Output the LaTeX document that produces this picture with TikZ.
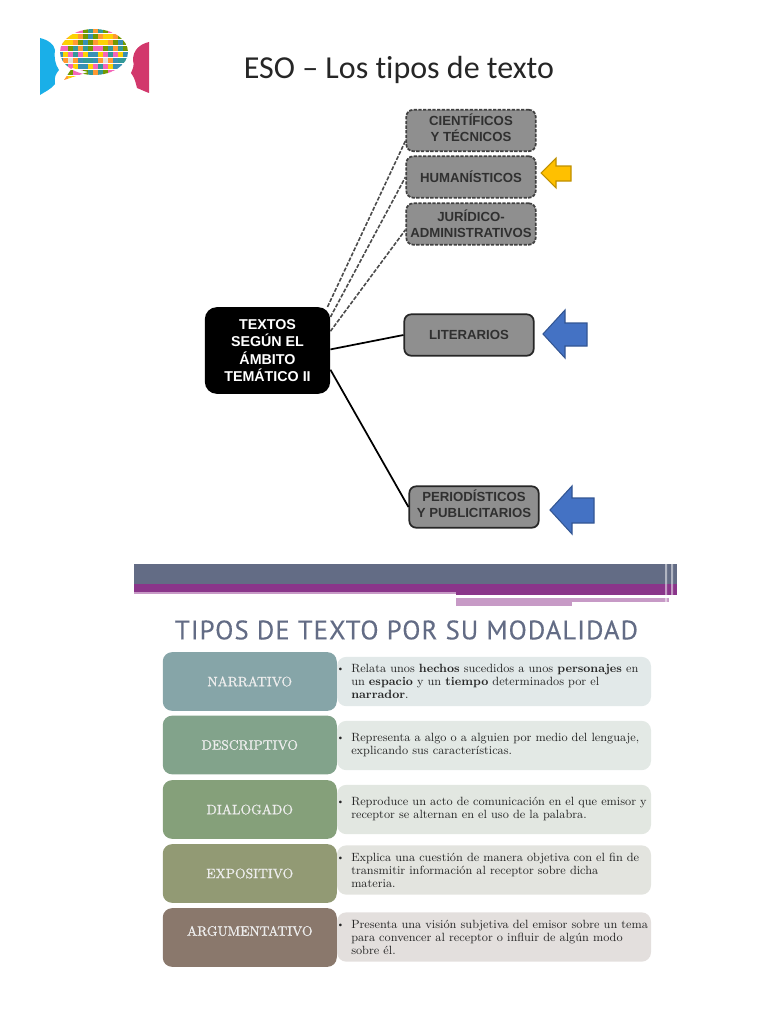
\documentclass[tikz,border=0pt]{standalone}
\usepackage{fontspec}
\newfontfamily\titulofont[Ligatures=NoCommon]{Carlito}
\newfontfamily\cajafont{Liberation Sans}
\newfontfamily\modfont[LetterSpace=4,FakeBold=0.3]{PT Sans}
\newfontfamily\etiquetafont[FakeBold=1]{Latin Modern Roman}
\newcommand{\vineta}{\llap{\raisebox{.6pt}{\scriptsize •}\hspace{5pt}}}
\definecolor{grisCaja}{HTML}{8F8F8F}
\definecolor{grisTexto}{HTML}{303030}
\definecolor{azulFlecha}{HTML}{4472C4}
\definecolor{amarilloFlecha}{HTML}{FFC000}
\definecolor{pizarra}{HTML}{636C85}
\definecolor{morado}{HTML}{8A358A}
\definecolor{moradoClaro}{HTML}{C79AC6}
\definecolor{narrCol}{HTML}{86A5A8}
\definecolor{descCol}{HTML}{82A38B}
\definecolor{diaCol}{HTML}{85A07A}
\definecolor{expoCol}{HTML}{929A74}
\definecolor{argCol}{HTML}{8A786C}
\definecolor{narrFondo}{HTML}{E2E9E9}
\definecolor{descFondo}{HTML}{E3E9E5}
\definecolor{diaFondo}{HTML}{E2E7E1}
\definecolor{expoFondo}{HTML}{E3E4DF}
\definecolor{argFondo}{HTML}{E3DFDD}
\definecolor{cabezaAzul}{HTML}{1AAFE8}
\definecolor{cabezaRosa}{HTML}{D2386C}
\begin{document}
\begin{tikzpicture}[x=.75pt,y=-.75pt,
  tipobox/.style={draw=#1,line width=1.3pt,fill=grisCaja,rounded corners=5pt,minimum width=97pt,minimum height=31pt,inner sep=0pt,align=center,text=grisTexto,font=\cajafont\bfseries\fontsize{9.9}{12}\selectfont},
  rayada/.style={dash pattern=on 2.5pt off 1pt},
  rama/.style={draw=black!70,line width=1.2pt,dash pattern=on 3pt off 1.2pt},
  flecha/.style={draw=#1!75!black,thick,fill=#1},
  modbox/.style={fill=#1,rounded corners=7pt,minimum width=130.5pt,minimum height=44pt,inner sep=0pt,text=white!93!black,font=\etiquetafont\fontsize{10.2}{12}\selectfont},
  fondobox/.style={fill=#1,rounded corners=7pt,minimum width=235.5pt,minimum height=37pt,inner sep=0pt},
  textobox/.style={anchor=west,inner sep=0pt,align=left,text=black!85,font=\fontsize{8.95}{9.75}\selectfont}]
\useasboundingbox (0,0) rectangle (768,1024);
% logo
\fill[fill=cabezaAzul] (40,38) .. controls (48,40) and (54,44) .. (55,50) .. controls (54,58) and (55,64) .. (59,70) .. controls (56,74) and (54,76) .. (55,84) .. controls (50,90) and (46,91) .. (40,95) -- cycle;
\fill[fill=cabezaRosa] (149,42) .. controls (140,44) and (133,50) .. (133,60) .. controls (135,66) and (132,70) .. (131,73) .. controls (135,78) and (136,84) .. (137,88) .. controls (142,90) and (146,92) .. (149,93) -- cycle;
\begin{scope}
\clip (94,52) ellipse (34 and 23) (72,68) -- (64,80) -- (88,72) -- cycle;
\foreach \i in {0,...,14}
  \foreach \j in {0,...,9}{
    \pgfmathtruncatemacro{\k}{mod(\i*\i+3*\j*\j+2*\i*\j+\j,7)}
    \ifcase\k\def\pieza{orange!80}\or\def\pieza{teal!80}\or\def\pieza{magenta!60}\or\def\pieza{cyan!70!black}\or\def\pieza{lime!60!black}\or\def\pieza{yellow!70!orange}\or\def\pieza{gray!25}\fi
    \fill[fill=\pieza] (58+\i*5,28+\j*6) rectangle ++(4.6,5.4);
  }
\end{scope}
% titulo
\node (titulo) at (399,70) [text=black!85] {\titulofont\fontsize{24}{28}\selectfont ESO – Los tipos de texto};
% mapa
\node (tema) at (267.5,350.5) [fill=black,text=white,rounded corners=9pt,minimum width=94pt,minimum height=65pt,inner sep=0pt,align=center,font=\cajafont\bfseries\fontsize{10.7}{13}\selectfont] {TEXTOS\\SEGÚN EL\\ÁMBITO\\TEMÁTICO II};
\node (cientificos) at (471,130.5) [tipobox=black!75,rayada,text depth=4.5pt] {CIENTÍFICOS\\Y TÉCNICOS};
\node (humanisticos) at (471,177) [tipobox=black!75,rayada] {HUMANÍSTICOS};
\node (juridico) at (471,224) [tipobox=black!75,rayada] {JURÍDICO-\\ADMINISTRATIVOS};
\node (literarios) at (469,335) [tipobox=black!85] {LITERARIOS};
\node (periodisticos) at (474,507) [tipobox=black!85,text depth=4.5pt] {PERIODÍSTICOS\\Y PUBLICITARIOS};
\draw[rama] (tema.36) -- (cientificos.189);
\draw[rama] (tema.28) -- (humanisticos.west);
\draw[rama] (tema.17) -- (juridico.185);
\draw[line width=1.3pt,black] (tema.1) -- (literarios.west);
\draw[line width=1.3pt,black] (tema.-17) -- (periodisticos.west);
\draw[flecha=amarilloFlecha] (541,173) -- (556,158) -- (556,166) -- (571,166) -- (571,181) -- (556,181) -- (556,188) -- cycle;
\draw[flecha=azulFlecha] (543,334) -- (565,310) -- (565,323) -- (587,323) -- (587,346) -- (565,346) -- (565,358) -- cycle;
\draw[flecha=azulFlecha] (550,510) -- (572,486) -- (572,498) -- (594,498) -- (594,523) -- (572,523) -- (572,534) -- cycle;
% banda
\fill[fill=pizarra] (134,564) rectangle (677,584);
\fill[fill=morado] (134,584) rectangle (677,592);
\fill[fill=morado] (456,592) rectangle (677,595);
\fill[fill=moradoClaro] (134,592) rectangle (456,594);
\fill[fill=moradoClaro] (456,598) rectangle (669,602);
\fill[fill=moradoClaro] (456,602) rectangle (572,606);
\fill[fill=white,opacity=.5] (665,564) rectangle (667,602) (671,564) rectangle (673,602);
\node (modalidad) at (406.5,630) [text=pizarra,font=\modfont\fontsize{20}{24}\selectfont] {TIPOS DE TEXTO POR SU MODALIDAD};
% filas
\node (fnarr) at (494,681.5) [fondobox=narrFondo] {};
\node (fdesc) at (494,745.5) [fondobox=descFondo] {};
\node (fdia) at (494,809.5) [fondobox=diaFondo] {};
\node (fexpo) at (494,870) [fondobox=expoFondo] {};
\node (farg) at (494,937) [fondobox=argFondo] {};
\node (narr) at (249.75,681.5) [modbox=narrCol] {NARRATIVO};
\node (desc) at (249.75,745) [modbox=descCol] {DESCRIPTIVO};
\node (dia) at (249.75,809.5) [modbox=diaCol] {DIALOGADO};
\node (expo) at (249.75,873.5) [modbox=expoCol] {EXPOSITIVO};
\node (arg) at (249.75,937.5) [modbox=argCol] {\raisebox{10pt}{ARGUMENTATIVO}};
\node (tnarr) at (351,681) [textobox] {\vineta Relata unos \textbf{hechos} sucedidos a unos \textbf{personajes} en\\un \textbf{espacio} y un \textbf{tiempo} determinados por el\\\textbf{narrador}.};
\node (tdesc) at (351,745) [textobox] {\vineta Representa a algo o a alguien por medio del lenguaje,\\explicando sus características.};
\node (tdia) at (351,809) [textobox] {\vineta Reproduce un acto de comunicación en el que emisor y\\receptor se alternan en el uso de la palabra.};
\node (texpo) at (351,870) [textobox] {\vineta Explica una cuestión de manera objetiva con el fin de\\transmitir información al receptor sobre dicha\\materia.};
\node (targ) at (351,937) [textobox] {\vineta Presenta una visión subjetiva del emisor sobre un tema\\para convencer al receptor o influir de algún modo\\sobre él.};
\end{tikzpicture}
\end{document}
